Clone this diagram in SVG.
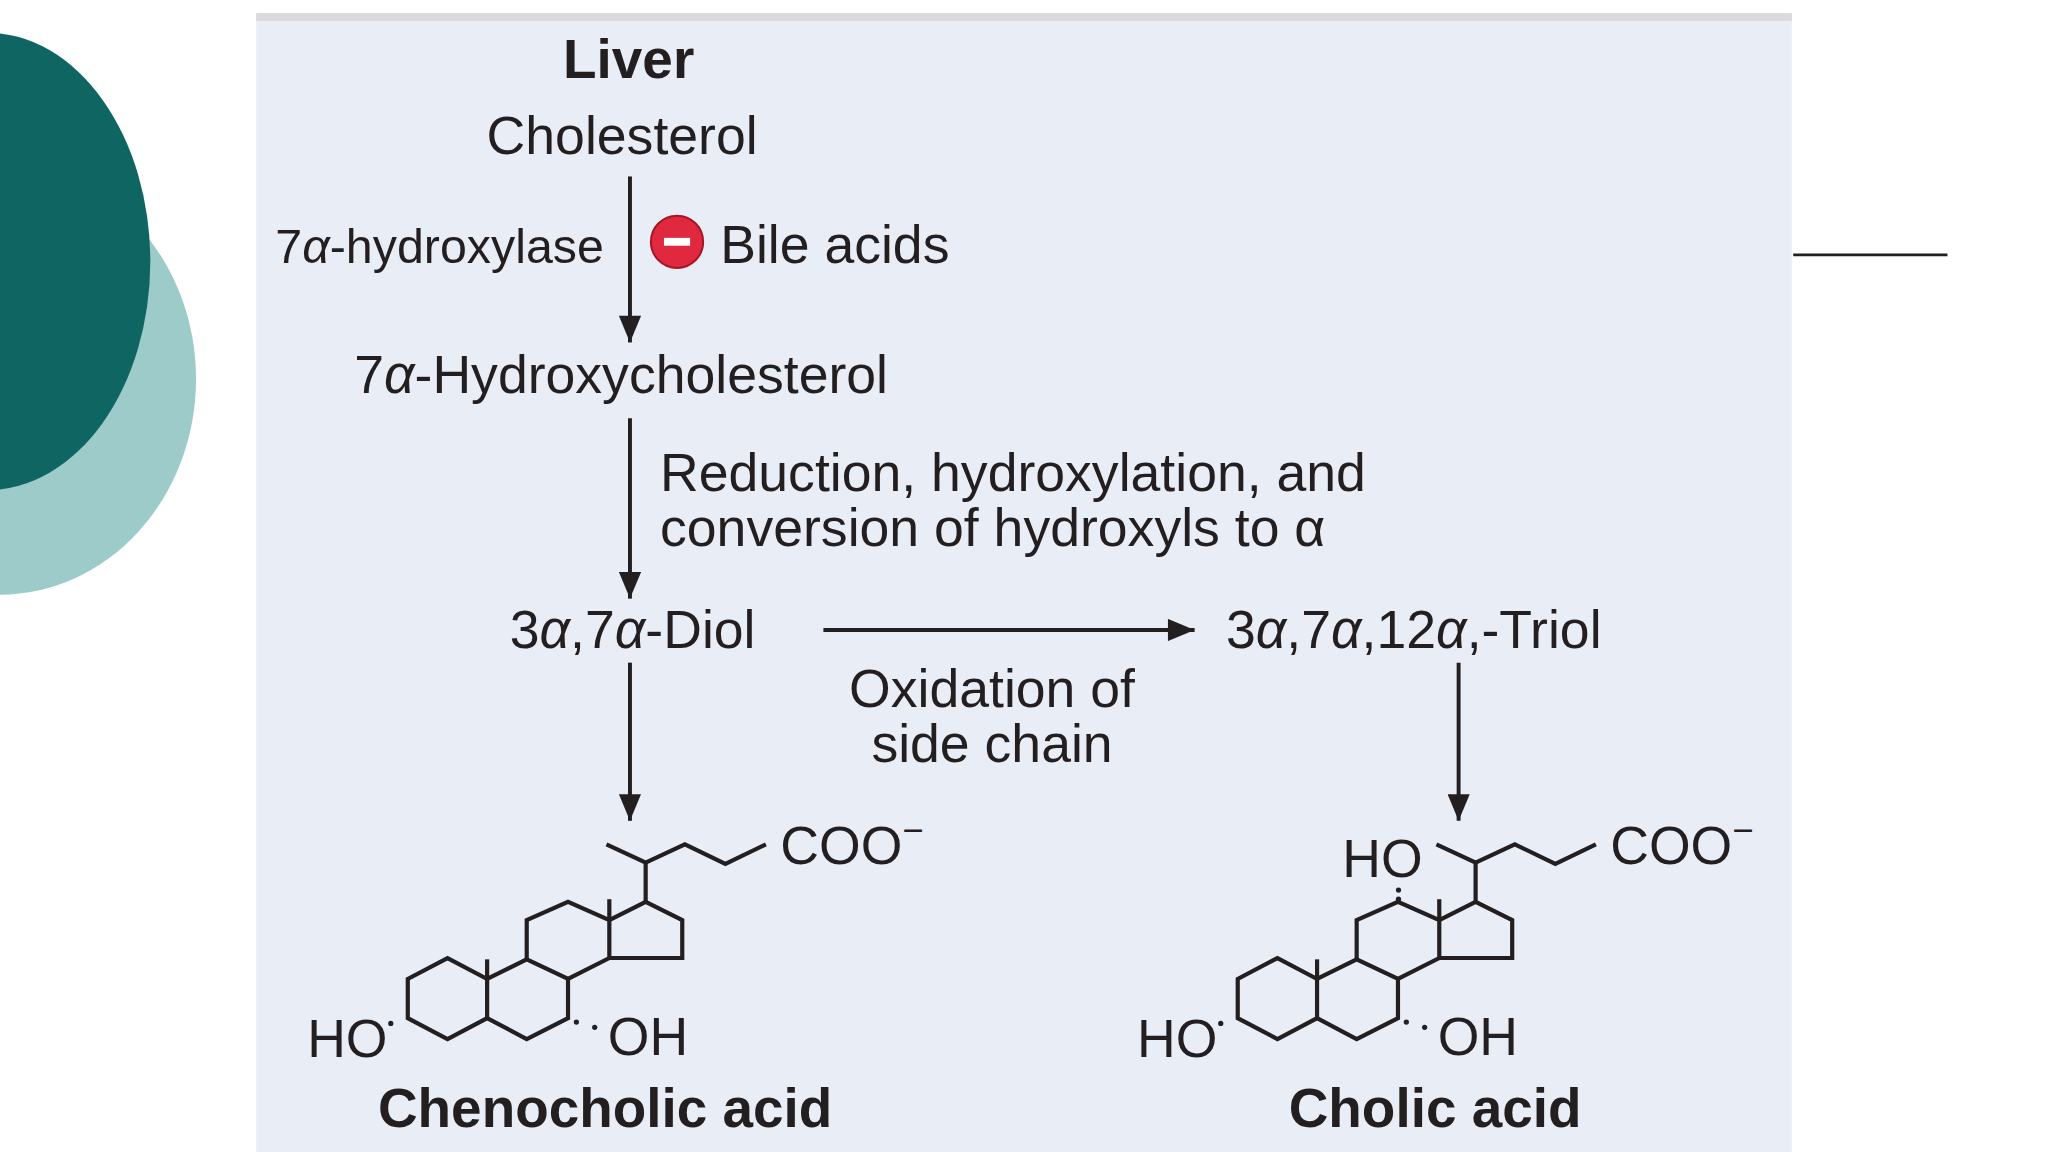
<svg xmlns="http://www.w3.org/2000/svg" width="2048" height="1152" viewBox="0 0 2048 1152">
<style>
text{font-family:"Liberation Sans",Arial,sans-serif;fill:#231f20}
.t{font-size:41px}
.s{font-size:37px}
.b{font-size:42px;font-weight:bold}
.a{font-style:italic}
.ln{stroke:#231f20;stroke-width:3;fill:none}
.r{stroke:#231f20;stroke-width:3.2;fill:none;stroke-linejoin:miter}
</style>
<defs>
<marker id="ah" viewBox="0 0 12 10" refX="12" refY="5" markerWidth="22" markerHeight="17" markerUnits="userSpaceOnUse" orient="auto">
<path d="M0,0L12,5L0,10z" fill="#231f20"/>
</marker>
<g id="ster">
<polygon class="r" points="342.4,733 372.7,749 372.7,779 342.4,795 312,779 312,749"/>
<polyline class="r" points="372.7,749 403,734 434.6,749 434.6,779 403,795 372.7,779"/>
<polyline class="r" points="403,734 403,704 434.6,690 466.2,704 466.2,733 434.6,749"/>
<polyline class="r" points="466.2,704 494,690 522,704 522,733 466.2,733"/>
<line class="r" x1="372.7" y1="749" x2="372.7" y2="734"/>
<line class="r" x1="466.2" y1="704" x2="466.2" y2="688"/>
<polyline class="r" points="494,690 494,660 464,646"/>
<polyline class="r" points="494,660 524,646 555,661 586,646"/>
<text x="597" y="661" class="t">COO<tspan dy="-16" font-size="28">−</tspan></text>
<text x="235" y="809" class="t">HO</text>
<circle cx="299" cy="783" r="2" fill="#231f20"/>
<circle cx="441" cy="782" r="2" fill="#231f20"/>
<circle cx="455" cy="786" r="2" fill="#231f20"/>
<text x="465" y="807" class="t">OH</text>
</g>
</defs>
<g transform="scale(1.307)">
<g id="decor">
<ellipse cx="0" cy="290" rx="150" ry="165" fill="#9dcbca"/>
<ellipse cx="-10" cy="200" rx="125" ry="175" fill="#0e6561"/>
<line x1="1372" y1="195" x2="1490" y2="195" stroke="#231f20" stroke-width="2"/>
</g>
<g id="panel">
<rect x="196" y="12" width="1175" height="870" fill="#e9eef6"/>
<rect x="196" y="10" width="1175" height="6" fill="#d8dadd"/>
</g>
<g id="connectors">
<line class="ln" x1="482" y1="135" x2="482" y2="262" marker-end="url(#ah)"/>
<line class="ln" x1="482" y1="320" x2="482" y2="458" marker-end="url(#ah)"/>
<line class="ln" x1="482" y1="507" x2="482" y2="628" marker-end="url(#ah)"/>
<line class="ln" x1="630" y1="482" x2="914" y2="482" marker-end="url(#ah)"/>
<line class="ln" x1="1116" y1="507" x2="1116" y2="628" marker-end="url(#ah)"/>
</g>
<g id="liver"><text x="481" y="60" text-anchor="middle" class="b">Liver</text></g>
<g id="cholesterol"><text x="476" y="118" text-anchor="middle" class="t">Cholesterol</text></g>
<g id="enzyme"><text x="462" y="201" text-anchor="end" class="s">7<tspan class="a">α</tspan>-hydroxylase</text></g>
<g id="inhibit">
<circle cx="518" cy="185" r="20" fill="#e0283e" stroke="#a51525" stroke-width="1.5"/>
<rect x="508" y="182" width="20" height="6" fill="#fff"/>
<text x="551" y="201" class="t">Bile acids</text>
</g>
<g id="hydroxychol"><text x="271" y="301" class="t">7<tspan class="a">α</tspan>-Hydroxycholesterol</text></g>
<g id="step2">
<text x="505" y="376" class="t">Reduction, hydroxylation, and</text>
<text x="505" y="418" class="t">conversion of hydroxyls to α</text>
</g>
<g id="diol"><text x="390" y="496" class="t">3<tspan class="a">α</tspan>,7<tspan class="a">α</tspan>-Diol</text></g>
<g id="triol"><text x="938" y="496" class="t">3<tspan class="a">α</tspan>,7<tspan class="a">α</tspan>,12<tspan class="a">α</tspan>,-Triol</text></g>
<g id="oxid">
<text x="759" y="541" text-anchor="middle" class="t">Oxidation of</text>
<text x="759" y="583" text-anchor="middle" class="t">side chain</text>
</g>
<g id="cheno">
<use href="#ster"/>
<text x="463" y="862" text-anchor="middle" class="b">Chenocholic acid</text>
</g>
<g id="cholic">
<use href="#ster" transform="translate(635,0)"/>
<text x="1027" y="671" class="t">HO</text>
<circle cx="1070" cy="681" r="2" fill="#231f20"/>
<circle cx="1070" cy="688" r="2" fill="#231f20"/>
<text x="1098" y="862" text-anchor="middle" class="b">Cholic acid</text>
</g>
</g>
</svg>
